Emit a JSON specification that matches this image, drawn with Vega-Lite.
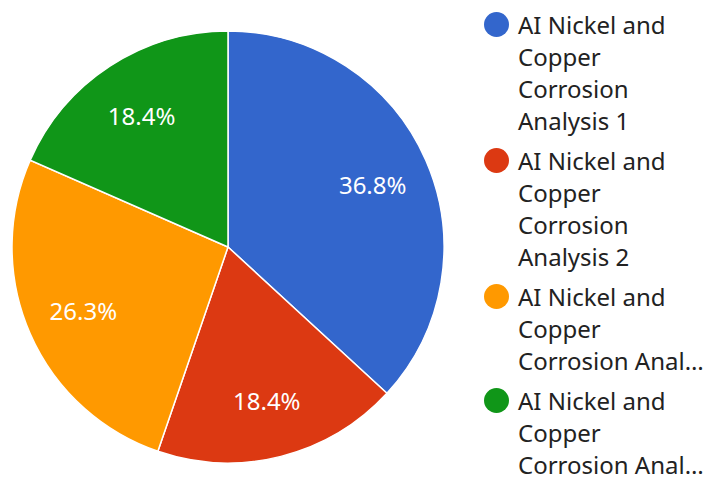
{
  "$schema": "https://vega.github.io/schema/vega-lite/v6.json",
  "autosize": {"type": "none"},
  "width": 456,
  "height": 460,
  "padding": {"top": 17, "left": 0, "right": 253, "bottom": 0},
  "background": "white",
  "data": {
    "values": [
      {"name": "AI Nickel and Copper Corrosion Analysis 1", "order": 1, "value": 7},
      {"name": "AI Nickel and Copper Corrosion Analysis 2", "order": 2, "value": 3.5},
      {"name": "AI Nickel and Copper Corrosion Analysis 3", "order": 3, "value": 5},
      {"name": "AI Nickel and Copper Corrosion Analysis 4", "order": 4, "value": 3.5}
    ]
  },
  "transform": [
    {"joinaggregate": [{"op": "sum", "field": "value", "as": "total"}]},
    {"calculate": "format(datum.value / datum.total, '.1%')", "as": "pct"}
  ],
  "encoding": {
    "theta": {"field": "value", "type": "quantitative", "stack": true},
    "order": {"field": "order", "type": "quantitative"},
    "color": {
      "field": "name",
      "type": "nominal",
      "scale": {"range": ["#3366cc", "#dc3912", "#ff9900", "#109618"]},
      "legend": {
        "title": null,
        "orient": "none",
        "legendX": 484,
        "legendY": -5,
        "symbolType": "circle",
        "symbolSize": 625,
        "symbolStrokeWidth": 0,
        "symbolOpacity": 1,
        "labelFont": "Noto Sans",
        "labelFontSize": 24,
        "labelColor": "#222222",
        "labelOffset": 9,
        "labelLimit": 300,
        "labelBaseline": "alphabetic",
        "rowPadding": 13,
        "labelExpr": "test(/[12]$/, datum.label) ? ['AI Nickel and', 'Copper', 'Corrosion', 'Analysis ' + slice(datum.label, -1)] : ['AI Nickel and', 'Copper', 'Corrosion Anal…']"
      }
    }
  },
  "layer": [
    {
      "mark": {"type": "arc", "outerRadius": 216, "stroke": "white", "strokeWidth": 1.5}
    },
    {
      "mark": {"type": "text", "radius": 158, "font": "Noto Sans", "fontSize": 24, "fill": "white", "baseline": "middle", "align": "center", "dy": 3},
      "encoding": {
        "text": {"field": "pct"},
        "color": {"value": "white"}
      }
    }
  ],
  "config": {
    "view": {"stroke": null},
    "style": {"guide-label": {"lineHeight": 32, "dy": 9}}
  }
}
